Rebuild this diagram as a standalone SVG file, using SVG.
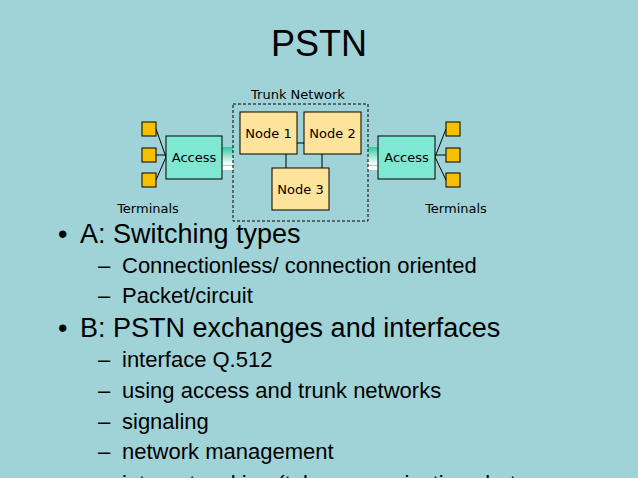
<svg xmlns="http://www.w3.org/2000/svg" width="638" height="478" viewBox="0 0 638 478">
<style>
text{font-family:"Liberation Sans",Arial,sans-serif;fill:#000}
.v{font-family:"DejaVu Sans",Verdana,sans-serif;font-size:13px}
.node{fill:#fde49a;stroke:#000;stroke-width:1}
.acc{fill:#7fe8d2;stroke:#000;stroke-width:1}
.term{fill:#f5c000;stroke:#000;stroke-width:1}
.ln{stroke:#000;stroke-width:1;fill:none}
.b1{font-size:27px}.b2{font-size:22px}
</style>
<defs><linearGradient id="g" x1="0" y1="0" x2="0" y2="1"><stop offset="0" stop-color="#2fc8a0"/><stop offset="0.75" stop-color="#ffffff"/><stop offset="0.8" stop-color="#9dd2d8"/><stop offset="0.85" stop-color="#ffffff"/><stop offset="1" stop-color="#ffffff"/></linearGradient></defs>
<rect width="638" height="478" fill="#9fd3d7"/>
<text x="319" y="56" font-size="36" text-anchor="middle">PSTN</text>
<text class="v" x="298" y="99" text-anchor="middle">Trunk Network</text>
<g id="connectors">
<rect x="222" y="147" width="11" height="23" fill="url(#g)"/>
<rect x="368" y="147" width="10" height="23" fill="url(#g)"/>
<path class="ln" d="M156 129L166 157M156 155H166M156 180L166 157M446 129L435 157M446 155H435M446 180L435 157M297 143H304M286 154V168M322 154V168"/>
</g>
<rect id="trunk" x="233" y="104" width="135" height="117" fill="none" stroke="#000" stroke-dasharray="3,2"/>
<g id="tl"><rect class="term" x="142" y="122" width="14" height="14"/><rect class="term" x="142" y="148" width="14" height="14"/><rect class="term" x="142" y="173" width="14" height="14"/></g>
<g id="tr"><rect class="term" x="446" y="122" width="14" height="14"/><rect class="term" x="446" y="148" width="14" height="14"/><rect class="term" x="446" y="173" width="14" height="14"/></g>
<g id="accL"><rect class="acc" x="166" y="136" width="56" height="43"/><text class="v" x="194" y="162" text-anchor="middle">Access</text></g>
<g id="accR"><rect class="acc" x="378" y="136" width="57" height="43"/><text class="v" x="406.5" y="162" text-anchor="middle">Access</text></g>
<g id="n1"><rect class="node" x="240" y="112" width="57" height="42"/><text class="v" x="268.5" y="138" text-anchor="middle">Node 1</text></g>
<g id="n2"><rect class="node" x="304" y="112" width="57" height="42"/><text class="v" x="332.5" y="138" text-anchor="middle">Node 2</text></g>
<g id="n3"><rect class="node" x="272" y="168" width="57" height="42"/><text class="v" x="300.5" y="194" text-anchor="middle">Node 3</text></g>
<text class="v" x="148" y="213" text-anchor="middle">Terminals</text>
<text class="v" x="456" y="213" text-anchor="middle">Terminals</text>
<text class="b1" x="58" y="243">•</text><text class="b1" x="80" y="243">A: Switching types</text>
<text class="b2" x="98" y="273">–</text><text class="b2" x="122" y="273">Connectionless/ connection oriented</text>
<text class="b2" x="98" y="303">–</text><text class="b2" x="122" y="303">Packet/circuit</text>
<text class="b1" x="58" y="337">•</text><text class="b1" x="80" y="337">B: PSTN exchanges and interfaces</text>
<text class="b2" x="98" y="367">–</text><text class="b2" x="122" y="367">interface Q.512</text>
<text class="b2" x="98" y="398">–</text><text class="b2" x="122" y="398">using access and trunk networks</text>
<text class="b2" x="98" y="429">–</text><text class="b2" x="122" y="429">signaling</text>
<text class="b2" x="98" y="459">–</text><text class="b2" x="122" y="459">network management</text>
<text class="b2" x="98" y="491">–</text><text class="b2" x="122" y="491">internetworking (telecommunications between</text>
</svg>
